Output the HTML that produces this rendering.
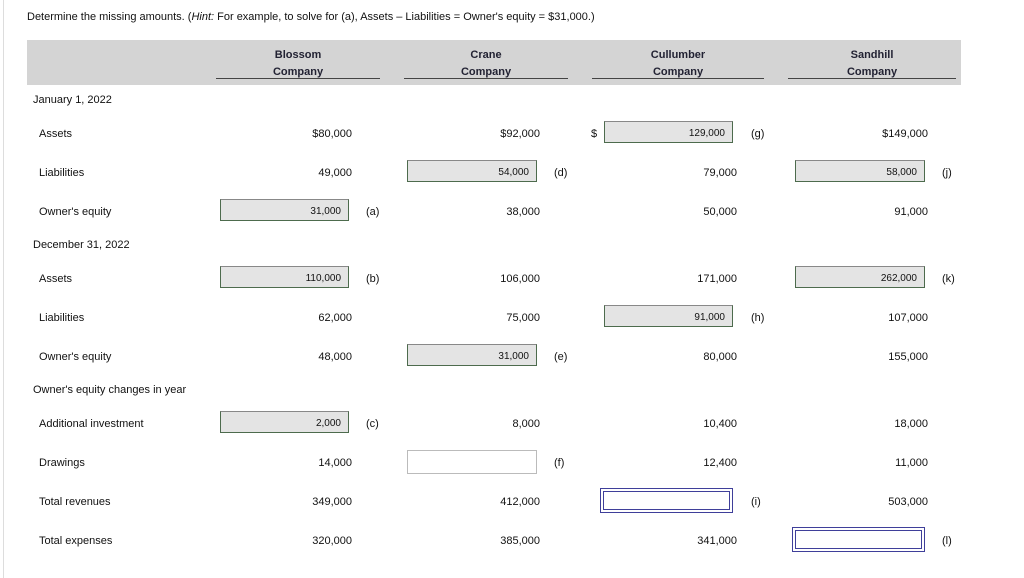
<!DOCTYPE html>
<html><head><meta charset="utf-8"><style>
body{margin:0;width:1024px;height:578px;background:#fff;position:relative;overflow:hidden;font-family:"Liberation Sans",sans-serif;color:#111;font-size:11px}
.a{position:absolute;white-space:nowrap;margin-top:2px}
.r{position:absolute;text-align:right;white-space:nowrap;margin-top:2px}
.hd{position:absolute;left:27px;top:40px;width:934px;height:45px;background:#d4d4d4}
.ul{position:absolute;top:78px;height:1px;border-top:1.5px solid #444}
.ch{position:absolute;top:47px;text-align:center;font-weight:bold;font-size:11px;line-height:17px;color:#223}
.bx{position:absolute;height:22px;background:#e4e4e4;border:1px solid #4d6b4d;border-top-color:#888;box-sizing:border-box;text-align:right;padding-right:7px;line-height:23px;font-size:10px}
.wb{position:absolute;height:24px;background:#fff;border:1px solid #bbb;box-sizing:border-box}
.bb{position:absolute;height:25px;background:#fff;border:4px double #3f3f9a;box-sizing:border-box}
</style></head><body>
<div style="position:absolute;left:3px;top:0;width:1px;height:578px;background:#ddd"></div>
<div class="a" style="left:27px;top:11px;margin-top:0">Determine the missing amounts. (<i>Hint:</i> For example, to solve for (a), Assets – Liabilities = Owner's equity = $31,000.)</div>
<div class="hd"></div>
<div class="ul" style="left:216px;width:164px"></div>
<div class="ul" style="left:404px;width:164px"></div>
<div class="ul" style="left:592px;width:172px"></div>
<div class="ul" style="left:788px;width:168px"></div>
<div class="ch" style="left:216px;width:164px">Blossom<br>Company</div>
<div class="ch" style="left:404px;width:164px">Crane<br>Company</div>
<div class="ch" style="left:592px;width:172px">Cullumber<br>Company</div>
<div class="ch" style="left:788px;width:168px">Sandhill<br>Company</div>

<div class="a" style="left:33px;top:92px">January 1, 2022</div>
<div class="a" style="left:39px;top:126px">Assets</div>
<div class="a" style="left:39px;top:165px">Liabilities</div>
<div class="a" style="left:39px;top:204px">Owner's equity</div>
<div class="a" style="left:33px;top:237px">December 31, 2022</div>
<div class="a" style="left:39px;top:271px">Assets</div>
<div class="a" style="left:39px;top:310px">Liabilities</div>
<div class="a" style="left:39px;top:349px">Owner's equity</div>
<div class="a" style="left:33px;top:382px">Owner's equity changes in year</div>
<div class="a" style="left:39px;top:416px">Additional investment</div>
<div class="a" style="left:39px;top:455px">Drawings</div>
<div class="a" style="left:39px;top:494px">Total revenues</div>
<div class="a" style="left:39px;top:533px">Total expenses</div>

<!-- Blossom -->
<div class="r" style="right:672px;top:126px">$80,000</div>
<div class="r" style="right:672px;top:165px">49,000</div>
<div class="bx" style="left:220px;top:199px;width:129px">31,000</div><div class="a" style="left:366px;top:204px">(a)</div>
<div class="bx" style="left:220px;top:266px;width:129px">110,000</div><div class="a" style="left:366px;top:271px">(b)</div>
<div class="r" style="right:672px;top:310px">62,000</div>
<div class="r" style="right:672px;top:349px">48,000</div>
<div class="bx" style="left:220px;top:411px;width:129px">2,000</div><div class="a" style="left:366px;top:416px">(c)</div>
<div class="r" style="right:672px;top:455px">14,000</div>
<div class="r" style="right:672px;top:494px">349,000</div>
<div class="r" style="right:672px;top:533px">320,000</div>

<!-- Crane -->
<div class="r" style="right:484px;top:126px">$92,000</div>
<div class="bx" style="left:407px;top:160px;width:130px">54,000</div><div class="a" style="left:554px;top:165px">(d)</div>
<div class="r" style="right:484px;top:204px">38,000</div>
<div class="r" style="right:484px;top:271px">106,000</div>
<div class="r" style="right:484px;top:310px">75,000</div>
<div class="bx" style="left:407px;top:344px;width:130px">31,000</div><div class="a" style="left:554px;top:349px">(e)</div>
<div class="r" style="right:484px;top:416px">8,000</div>
<div class="wb" style="left:407px;top:450px;width:130px"></div><div class="a" style="left:554px;top:455px">(f)</div>
<div class="r" style="right:484px;top:494px">412,000</div>
<div class="r" style="right:484px;top:533px">385,000</div>

<!-- Cullumber -->
<div class="a" style="left:591px;top:126px">$</div>
<div class="bx" style="left:604px;top:121px;width:129px">129,000</div><div class="a" style="left:751px;top:126px">(g)</div>
<div class="r" style="right:287px;top:165px">79,000</div>
<div class="r" style="right:287px;top:204px">50,000</div>
<div class="r" style="right:287px;top:271px">171,000</div>
<div class="bx" style="left:604px;top:305px;width:129px">91,000</div><div class="a" style="left:751px;top:310px">(h)</div>
<div class="r" style="right:287px;top:349px">80,000</div>
<div class="r" style="right:287px;top:416px">10,400</div>
<div class="r" style="right:287px;top:455px">12,400</div>
<div class="bb" style="left:600px;top:488px;width:133px"></div><div class="a" style="left:751px;top:494px">(i)</div>
<div class="r" style="right:287px;top:533px">341,000</div>

<!-- Sandhill -->
<div class="r" style="right:96px;top:126px">$149,000</div>
<div class="bx" style="left:795px;top:160px;width:130px">58,000</div><div class="a" style="left:942px;top:165px">(j)</div>
<div class="r" style="right:96px;top:204px">91,000</div>
<div class="bx" style="left:795px;top:266px;width:130px">262,000</div><div class="a" style="left:942px;top:271px">(k)</div>
<div class="r" style="right:96px;top:310px">107,000</div>
<div class="r" style="right:96px;top:349px">155,000</div>
<div class="r" style="right:96px;top:416px">18,000</div>
<div class="r" style="right:96px;top:455px">11,000</div>
<div class="r" style="right:96px;top:494px">503,000</div>
<div class="bb" style="left:792px;top:527px;width:133px"></div><div class="a" style="left:942px;top:533px">(l)</div>
</body></html>
